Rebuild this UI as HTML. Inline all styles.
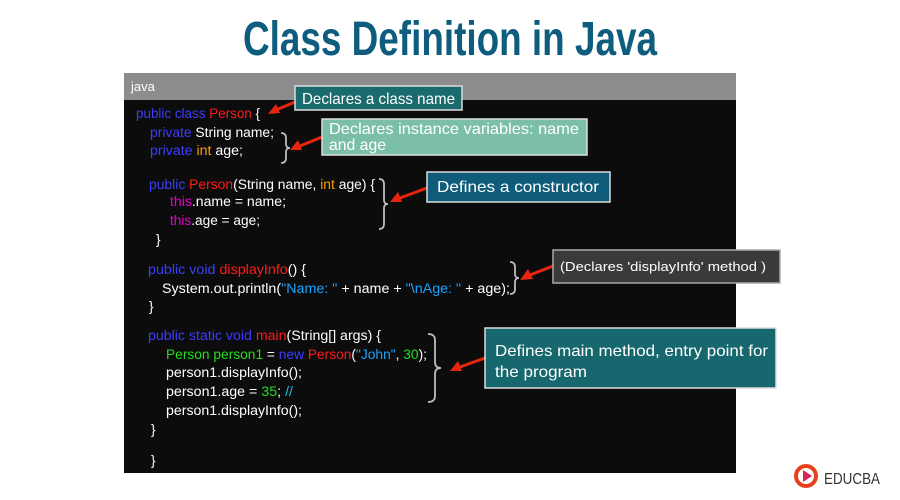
<!DOCTYPE html>
<html><head><meta charset="utf-8"><style>
html,body{margin:0;padding:0;background:#fff;width:900px;height:500px;overflow:hidden}
</style></head><body>
<svg width="900" height="500" viewBox="0 0 900 500" xmlns="http://www.w3.org/2000/svg" font-family="Liberation Sans, sans-serif">
<text x="243" y="55" textLength="414" lengthAdjust="spacingAndGlyphs" font-size="48" font-weight="bold" fill="#0e5d7e">Class Definition in Java</text>
<rect x="124" y="73" width="612" height="400" fill="#0c0c0c"/>
<rect x="124" y="73" width="612" height="27" fill="#8c8c8c"/>
<text x="131" y="91" font-size="13" fill="#fff">java</text>
<g font-size="13.5" fill="#fff">
<text x="136" y="118" textLength="124" lengthAdjust="spacingAndGlyphs"><tspan fill="#3d3dff">public class </tspan><tspan fill="#ff1a1a">Person </tspan>{</text>
<text x="150" y="137" textLength="124" lengthAdjust="spacingAndGlyphs"><tspan fill="#3d3dff">private </tspan>String name;</text>
<text x="150" y="155" textLength="93" lengthAdjust="spacingAndGlyphs"><tspan fill="#3d3dff">private </tspan><tspan fill="#ff9a00">int </tspan>age;</text>
<text x="149" y="189" textLength="226" lengthAdjust="spacingAndGlyphs"><tspan fill="#3d3dff">public </tspan><tspan fill="#ff1a1a">Person</tspan>(String name, <tspan fill="#ff9a00">int </tspan>age) {</text>
<text x="170" y="206" textLength="116" lengthAdjust="spacingAndGlyphs"><tspan fill="#e600c8">this</tspan>.name = name;</text>
<text x="170" y="225" textLength="90" lengthAdjust="spacingAndGlyphs"><tspan fill="#e600c8">this</tspan>.age = age;</text>
<text x="156" y="244">}</text>
<text x="148" y="274" textLength="158" lengthAdjust="spacingAndGlyphs"><tspan fill="#3d3dff">public void </tspan><tspan fill="#ff1a1a">displayInfo</tspan>() {</text>
<text x="162" y="293" textLength="348" lengthAdjust="spacingAndGlyphs">System.out.println(<tspan fill="#1aa3ff">"Name: "</tspan> + name + <tspan fill="#1aa3ff">"\nAge: "</tspan> + age);</text>
<text x="149" y="311">}</text>
<text x="148" y="340" textLength="233" lengthAdjust="spacingAndGlyphs"><tspan fill="#3d3dff">public static void </tspan><tspan fill="#ff1a1a">main</tspan>(String[] args) {</text>
<text x="166" y="359" textLength="261" lengthAdjust="spacingAndGlyphs"><tspan fill="#22dd22">Person person1 </tspan>= <tspan fill="#3d3dff">new </tspan><tspan fill="#ff1a1a">Person</tspan>(<tspan fill="#1aa3ff">"John"</tspan>, <tspan fill="#22dd22">30</tspan>);</text>
<text x="166" y="377" textLength="136" lengthAdjust="spacingAndGlyphs">person1.displayInfo();</text>
<text x="166" y="396" textLength="127" lengthAdjust="spacingAndGlyphs">person1.age = <tspan fill="#22dd22">35</tspan>; <tspan fill="#1ac0e0">//</tspan></text>
<text x="166" y="415" textLength="136" lengthAdjust="spacingAndGlyphs">person1.displayInfo();</text>
<text x="151" y="434">}</text>
<text x="151" y="465">}</text>
</g>
<g fill="none" stroke="#bbb" stroke-width="1.8">
<path d="M281 133 q5 0 5 5 v6 q0 4 4 4 q-4 0 -4 4 v6 q0 5 -5 5"/>
<path d="M379 179 q5 0 5 5 v16 q0 4 4 4 q-4 0 -4 4 v16 q0 5 -5 5"/>
<path d="M510 262 q5 0 5 5 v7 q0 4 4 4 q-4 0 -4 4 v7 q0 5 -5 5"/>
<path d="M428 334 q7 0 7 6 v22 q0 6 6 6 q-6 0 -6 6 v22 q0 6 -7 6"/>
</g>
<g stroke="#e8260f" stroke-width="3" fill="#e8260f">
<line x1="295" y1="102" x2="276" y2="110"/><polygon points="268,114 276,104 280,113" stroke="none"/>
<line x1="322" y1="137" x2="300" y2="146"/><polygon points="290,150 298,140 302,150" stroke="none"/>
<line x1="427" y1="188" x2="400" y2="198"/><polygon points="390,202 398,192 402,202" stroke="none"/>
<line x1="553" y1="266" x2="530" y2="275"/><polygon points="520,280 528,269 533,279" stroke="none"/>
<line x1="485" y1="358" x2="460" y2="367"/><polygon points="450,371 458,361 462,371" stroke="none"/>
</g>
<rect x="295" y="86" width="167" height="24" fill="#1a6b6e" stroke="#ddd" stroke-width="1.5"/>
<text x="302" y="104" font-size="16" fill="#fff" textLength="153" lengthAdjust="spacingAndGlyphs">Declares a class name</text>
<rect x="322" y="119" width="265" height="36" fill="#7bbfa8" stroke="#ddd" stroke-width="1.5"/>
<text x="329" y="134" font-size="16" fill="#fff" textLength="250" lengthAdjust="spacingAndGlyphs">Declares  instance variables: name</text>
<text x="329" y="150" font-size="16" fill="#fff" textLength="57" lengthAdjust="spacingAndGlyphs">and age</text>
<rect x="427" y="172" width="183" height="30" fill="#0e5c7a" stroke="#ddd" stroke-width="1.5"/>
<text x="437" y="192" font-size="16" fill="#fff" textLength="162" lengthAdjust="spacingAndGlyphs">Defines a constructor</text>
<rect x="553" y="250" width="227" height="33" fill="#3a3a3a" stroke="#aaa" stroke-width="1.5"/>
<text x="560" y="271" font-size="13" fill="#fff" textLength="206" lengthAdjust="spacingAndGlyphs">(Declares 'displayInfo'   method )</text>
<rect x="485" y="328" width="291" height="60" fill="#17686e" stroke="#ddd" stroke-width="1.5"/>
<text x="495" y="356" font-size="16" fill="#fff" textLength="273" lengthAdjust="spacingAndGlyphs">Defines main method, entry point for</text>
<text x="495" y="377" font-size="16" fill="#fff" textLength="92" lengthAdjust="spacingAndGlyphs">the program</text>
<circle cx="806" cy="476" r="10" fill="none" stroke="#e8401c" stroke-width="4"/>
<polygon points="803,470 812,476 803,482" fill="#d8225a"/>
<text x="824" y="484" font-size="16" fill="#333" textLength="56" lengthAdjust="spacingAndGlyphs">EDUCBA</text>
</svg>
</body></html>
